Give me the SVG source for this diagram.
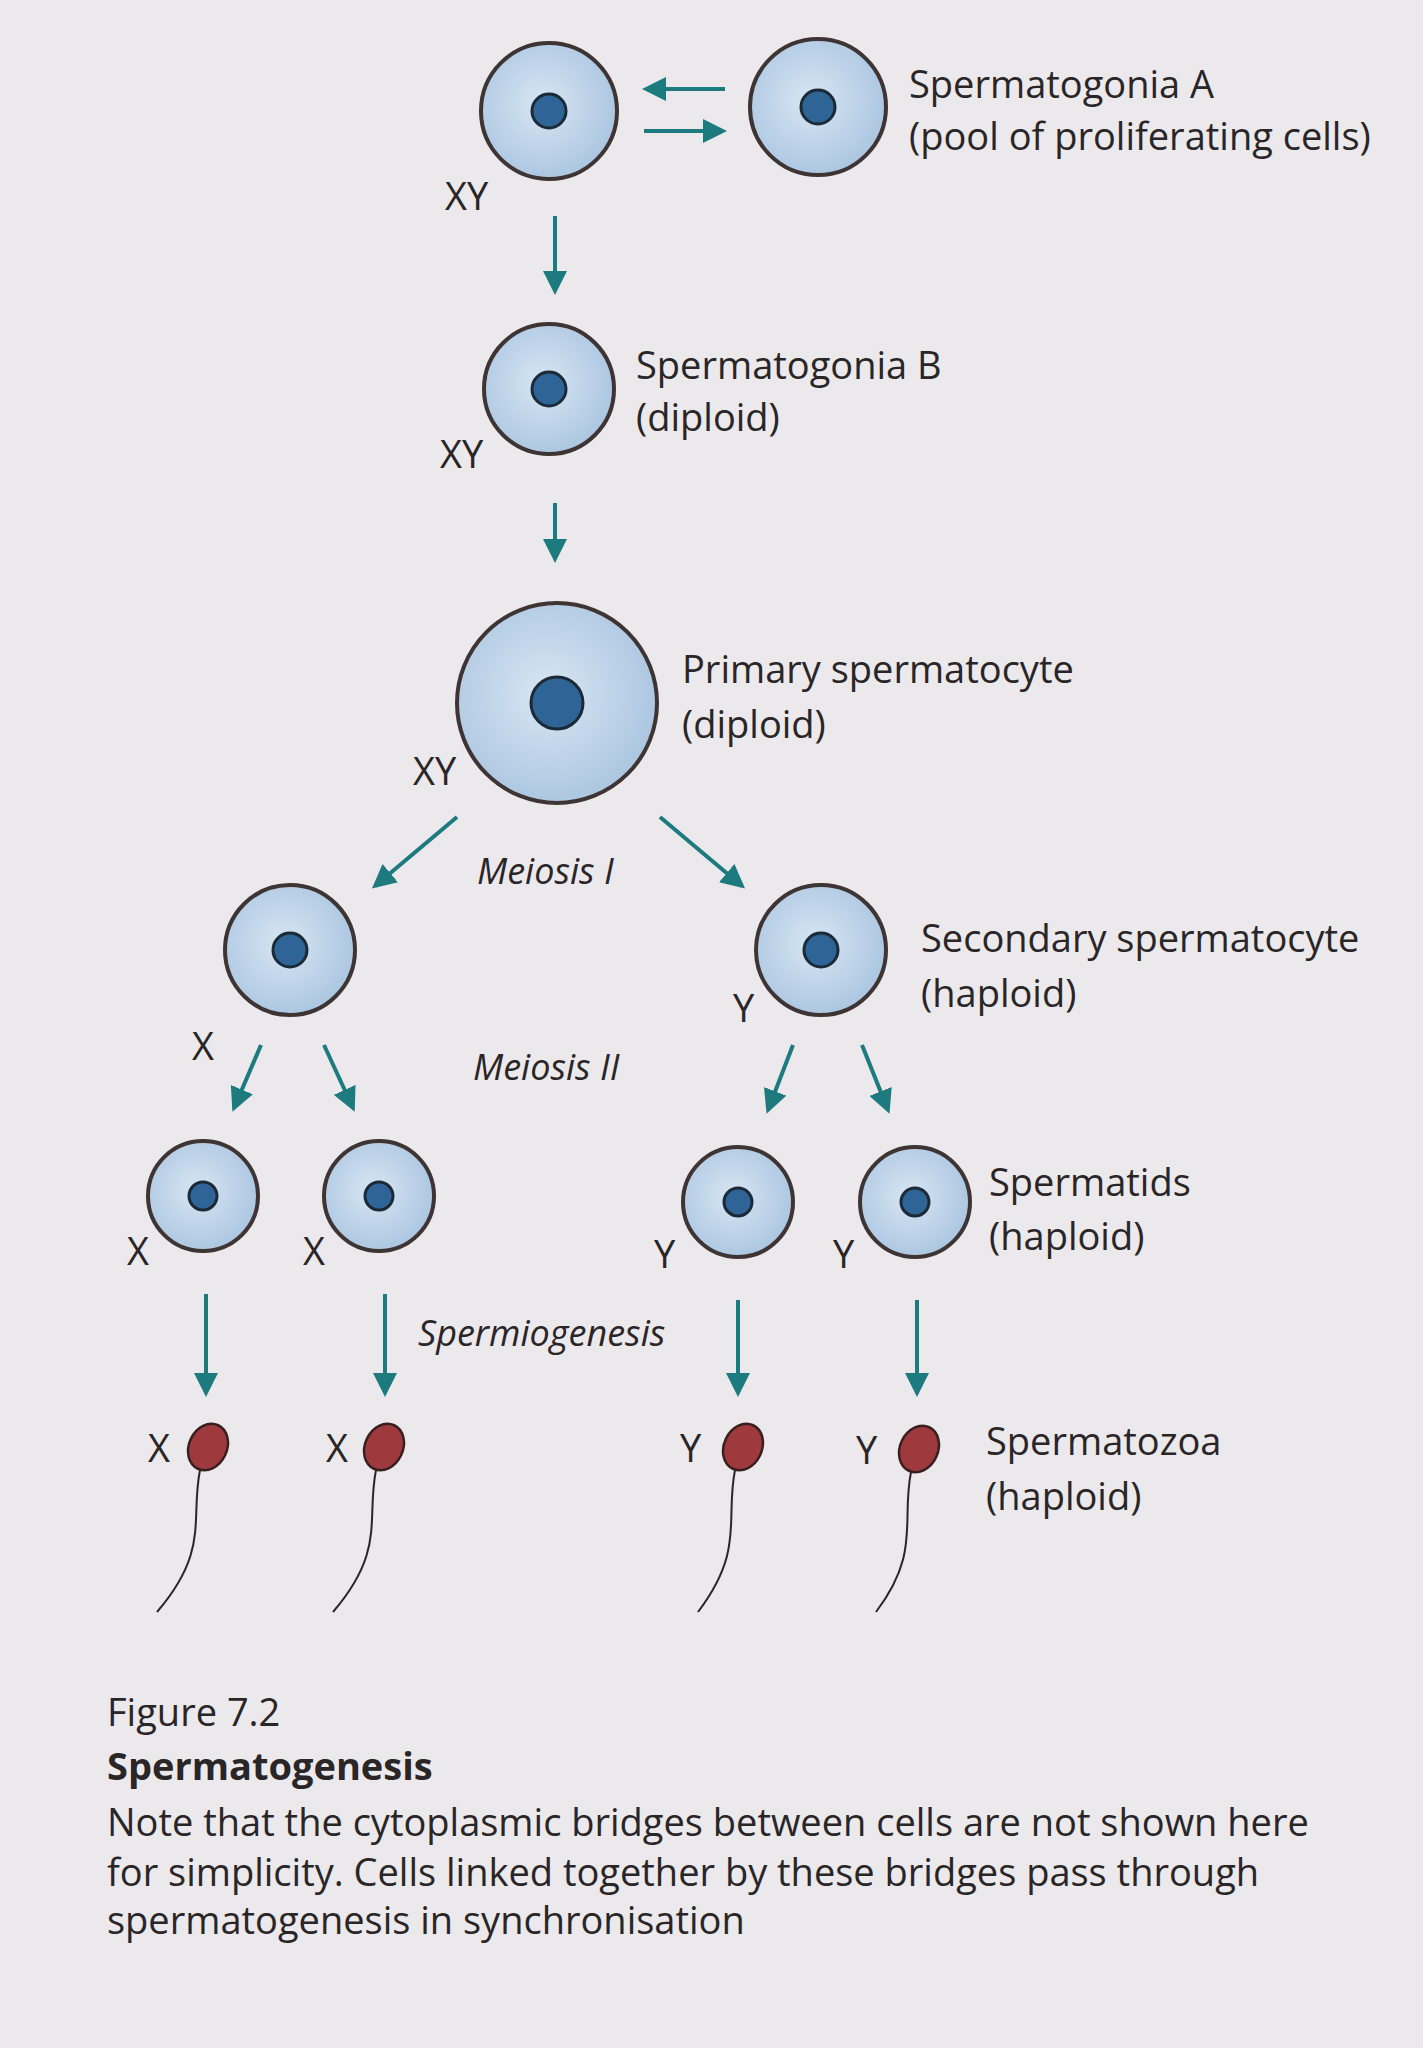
<svg xmlns="http://www.w3.org/2000/svg" width="1423" height="2048" viewBox="0 0 1423 2048">
<style>
.cell{fill:url(#cg);stroke:#3d3433;stroke-width:4}
.nuc{fill:#2f6596;stroke:#1c2a38;stroke-width:3}
.ar{stroke:#1d7b80;stroke-width:4;fill:none;marker-end:url(#ah)}
.t{font-family:"Open Sans",sans-serif;font-size:38px;fill:#2a2526}
.it{font-family:"Open Sans",sans-serif;font-size:36px;font-style:italic;fill:#2a2526}
.c{font-family:"Open Sans",sans-serif;font-size:38px;fill:#2a2526}
.head{fill:#9e3a3e;stroke:#3a1f1f;stroke-width:2.5}
.tail{fill:none;stroke:#2a2526;stroke-width:2}
</style>
<defs>
<radialGradient id="cg" cx="0.45" cy="0.45" r="0.6"><stop offset="0" stop-color="#d8e6f3"/><stop offset="1" stop-color="#a9c4e0"/></radialGradient>
<marker id="ah" markerWidth="6" markerHeight="6" refX="5" refY="3" orient="auto"><path d="M0,0 L6,3 L0,6 Z" fill="#1d7b80"/></marker>
</defs>
<rect width="1423" height="2048" fill="#ebe9ec"/>
<g id="sgA1"><circle class="cell" cx="549" cy="111" r="68"/><circle class="nuc" cx="549" cy="111" r="17"/><text class="t" x="445" y="210">XY</text></g>
<g id="sgA2"><circle class="cell" cx="818" cy="107" r="68"/><circle class="nuc" cx="818" cy="107" r="17"/>
<text class="t" x="909" y="98">Spermatogonia A</text><text class="t" x="909" y="150">(pool of proliferating cells)</text></g>
<g id="sgB"><circle class="cell" cx="549" cy="389" r="65"/><circle class="nuc" cx="549" cy="389" r="17"/><text class="t" x="440" y="468">XY</text>
<text class="t" x="636" y="379">Spermatogonia B</text><text class="t" x="636" y="431">(diploid)</text></g>
<g id="primary"><circle class="cell" cx="557" cy="703" r="100"/><circle class="nuc" cx="557" cy="703" r="26"/><text class="t" x="413" y="785">XY</text>
<text class="t" x="682" y="683">Primary spermatocyte</text><text class="t" x="682" y="738">(diploid)</text></g>
<g id="sec1"><circle class="cell" cx="290" cy="950" r="65"/><circle class="nuc" cx="290" cy="950" r="17"/><text class="t" x="192" y="1060">X</text></g>
<g id="sec2"><circle class="cell" cx="821" cy="950" r="65"/><circle class="nuc" cx="821" cy="950" r="17"/><text class="t" x="733" y="1022">Y</text>
<text class="t" x="921" y="952">Secondary spermatocyte</text><text class="t" x="921" y="1007">(haploid)</text></g>
<g id="st1"><circle class="cell" cx="203" cy="1196" r="55"/><circle class="nuc" cx="203" cy="1196" r="14"/><text class="t" x="127" y="1265">X</text></g>
<g id="st2"><circle class="cell" cx="379" cy="1196" r="55"/><circle class="nuc" cx="379" cy="1196" r="14"/><text class="t" x="303" y="1265">X</text></g>
<g id="st3"><circle class="cell" cx="738" cy="1202" r="55"/><circle class="nuc" cx="738" cy="1202" r="14"/><text class="t" x="654" y="1268">Y</text></g>
<g id="st4"><circle class="cell" cx="915" cy="1202" r="55"/><circle class="nuc" cx="915" cy="1202" r="14"/><text class="t" x="833" y="1268">Y</text>
<text class="t" x="989" y="1196">Spermatids</text><text class="t" x="989" y="1250">(haploid)</text></g>
<g id="sz1"><path class="tail" d="M200,1470 C190,1520 210,1550 157,1612"/><ellipse class="head" cx="208" cy="1447" rx="19" ry="24" transform="rotate(25 208 1447)"/><text class="t" x="148" y="1462">X</text></g>
<g id="sz2"><path class="tail" d="M376,1470 C366,1520 386,1550 333,1612"/><ellipse class="head" cx="384" cy="1447" rx="19" ry="24" transform="rotate(25 384 1447)"/><text class="t" x="326" y="1462">X</text></g>
<g id="sz3"><path class="tail" d="M735,1470 C725,1520 745,1550 698,1612"/><ellipse class="head" cx="743" cy="1447" rx="19" ry="24" transform="rotate(25 743 1447)"/><text class="t" x="680" y="1462">Y</text></g>
<g id="sz4"><path class="tail" d="M911,1472 C901,1522 921,1552 876,1612"/><ellipse class="head" cx="919" cy="1449" rx="19" ry="24" transform="rotate(25 919 1449)"/><text class="t" x="856" y="1464">Y</text>
<text class="t" x="986" y="1455">Spermatozoa</text><text class="t" x="986" y="1510">(haploid)</text></g>
<g id="connectors">
<line class="ar" x1="725" y1="89" x2="646" y2="89"/>
<line class="ar" x1="644" y1="131" x2="723" y2="131"/>
<line class="ar" x1="555" y1="216" x2="555" y2="291"/>
<line class="ar" x1="555" y1="503" x2="555" y2="559"/>
<line class="ar" x1="457" y1="817" x2="375" y2="886"/>
<line class="ar" x1="660" y1="817" x2="742" y2="886"/>
<line class="ar" x1="261" y1="1045" x2="234" y2="1108"/>
<line class="ar" x1="324" y1="1045" x2="353" y2="1108"/>
<line class="ar" x1="793" y1="1045" x2="768" y2="1110"/>
<line class="ar" x1="862" y1="1045" x2="888" y2="1110"/>
<line class="ar" x1="206" y1="1294" x2="206" y2="1393"/>
<line class="ar" x1="385" y1="1294" x2="385" y2="1393"/>
<line class="ar" x1="738" y1="1300" x2="738" y2="1393"/>
<line class="ar" x1="917" y1="1300" x2="917" y2="1393"/>
</g>
<text class="it" x="477" y="884">Meiosis I</text>
<text class="it" x="473" y="1080">Meiosis II</text>
<text class="it" x="418" y="1346">Spermiogenesis</text>
<text class="c" x="107" y="1726">Figure 7.2</text>
<text class="c" x="107" y="1780" font-weight="bold">Spermatogenesis</text>
<text class="c" x="107" y="1836">Note that the cytoplasmic bridges between cells are not shown here</text>
<text class="c" x="107" y="1886">for simplicity. Cells linked together by these bridges pass through</text>
<text class="c" x="107" y="1934">spermatogenesis in synchronisation</text>
</svg>
